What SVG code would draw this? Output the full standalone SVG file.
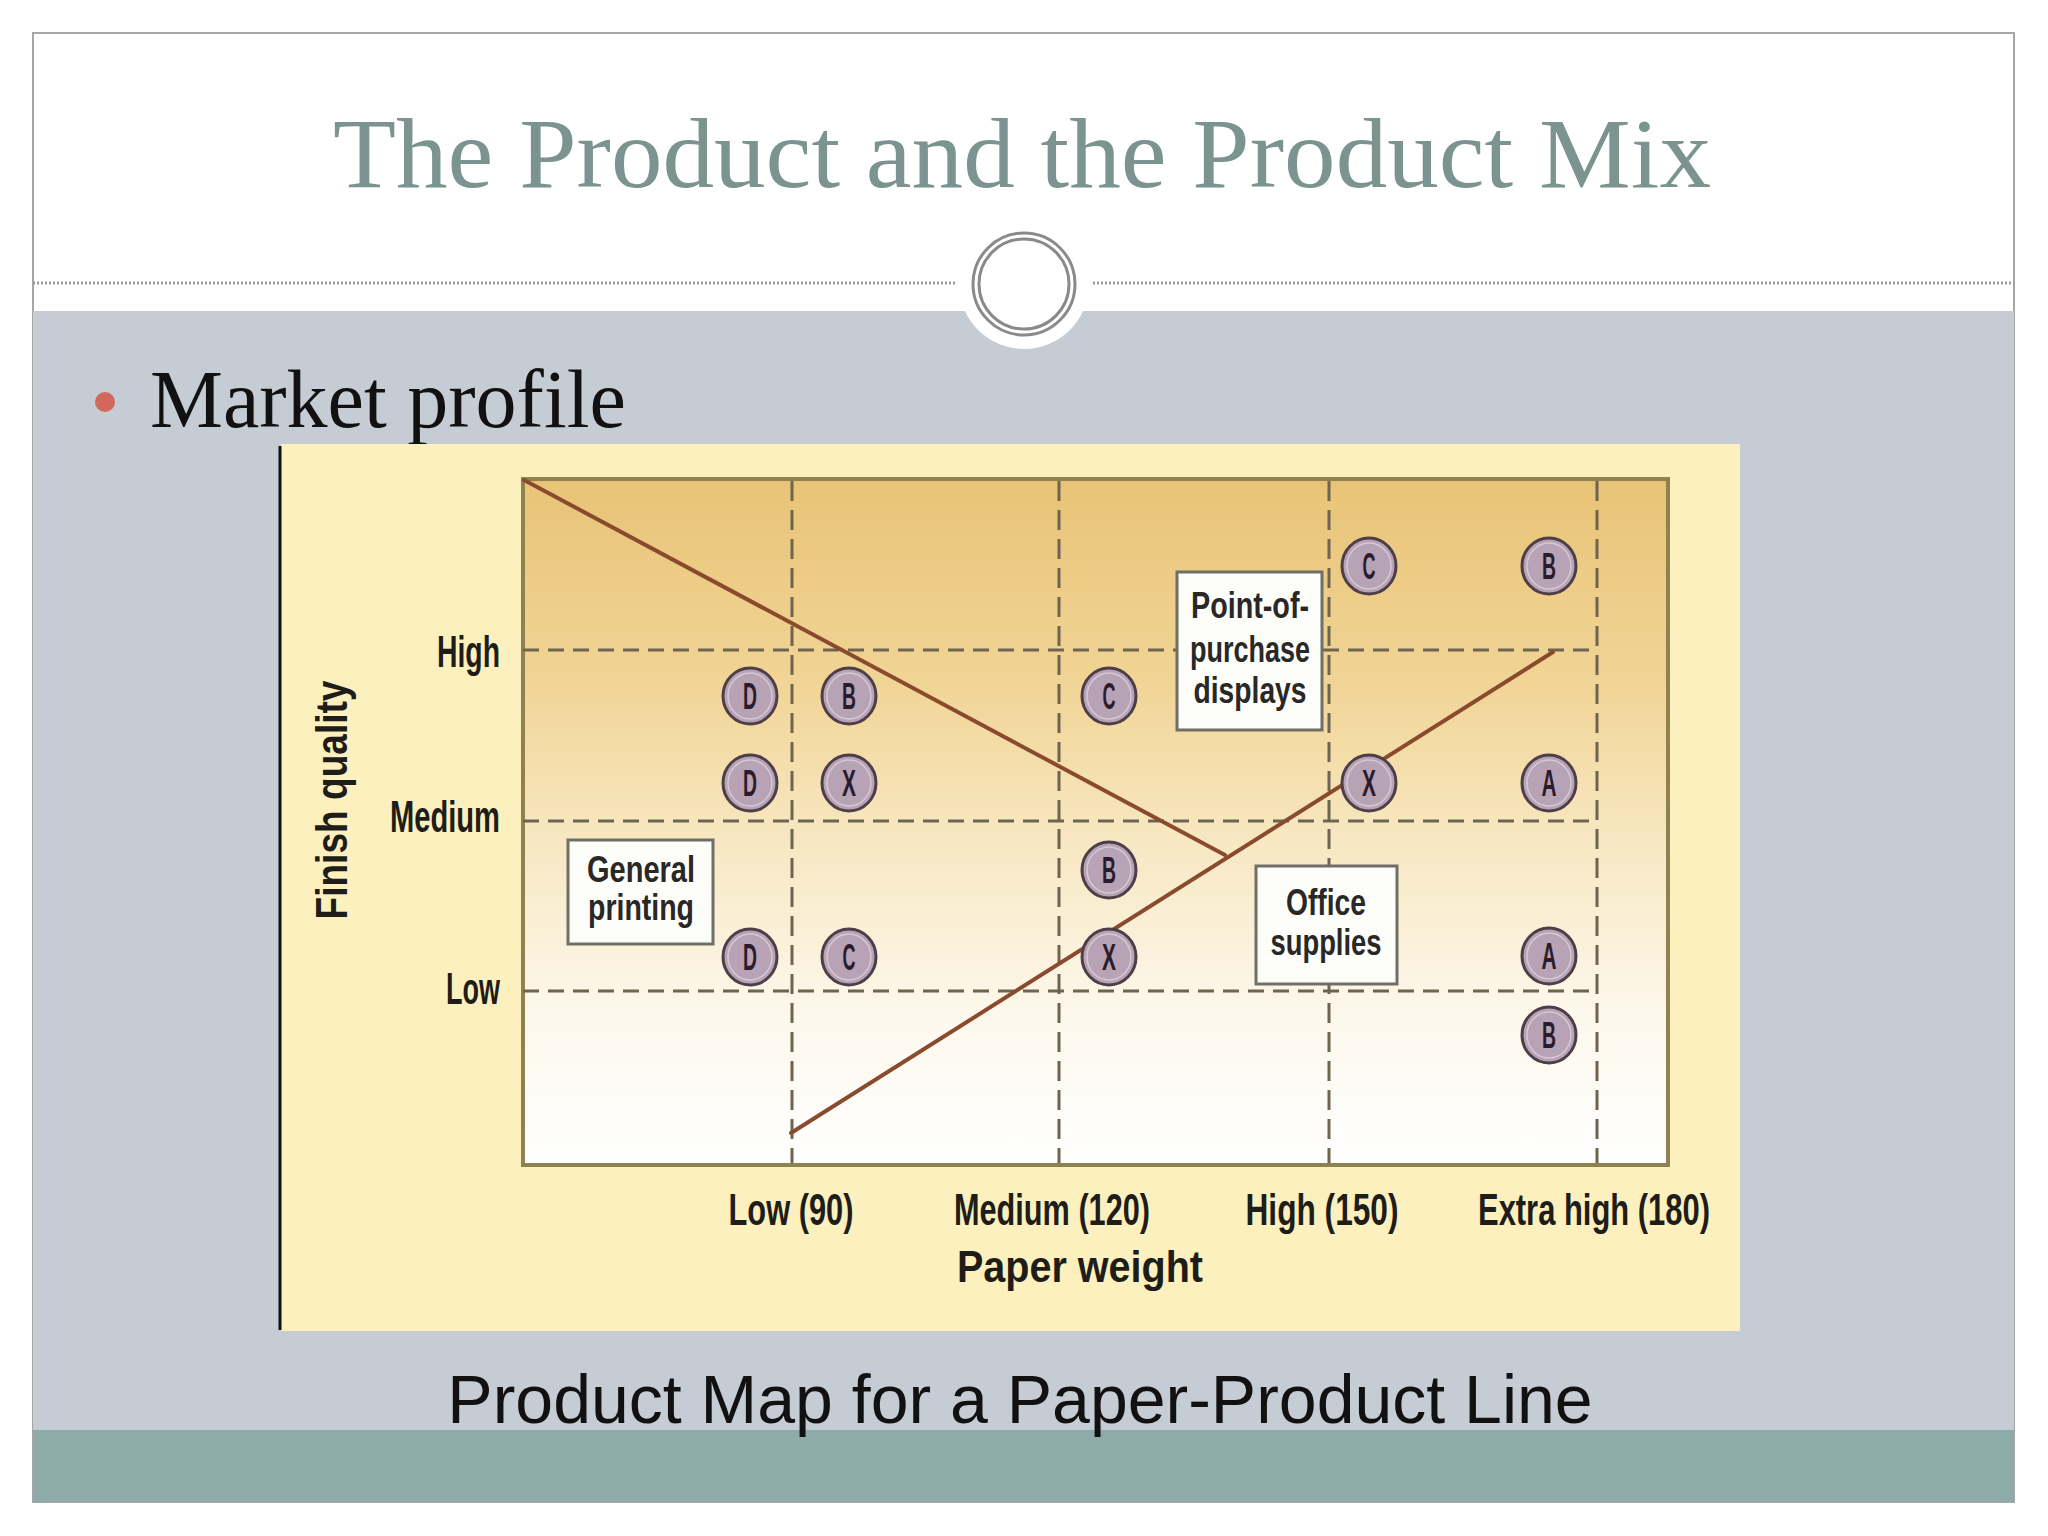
<svg xmlns="http://www.w3.org/2000/svg" width="2048" height="1536" viewBox="0 0 2048 1536">
  <defs>
    <linearGradient id="plotFill" x1="0" y1="0" x2="0" y2="1">
      <stop offset="0" stop-color="#e8c377"/>
      <stop offset="0.3" stop-color="#f1d596"/>
      <stop offset="0.55" stop-color="#f8e9c6"/>
      <stop offset="0.78" stop-color="#fdf8ec"/>
      <stop offset="1" stop-color="#ffffff"/>
    </linearGradient>
    <style>
      .ax { font-family: "Liberation Sans", Arial, sans-serif; font-weight: bold; font-size: 44px; fill: #1f1d1a; }
      .lbl { font-family: "Liberation Sans", Arial, sans-serif; font-weight: bold; font-size: 36px; fill: #2a2826; text-anchor: middle; }
      .grid { stroke: #6e6450; stroke-width: 3; fill: none; }
      .gh { stroke-dasharray: 16 9; }
      .gv { stroke-dasharray: 20 9; }
      .box { fill: #fdfdfa; stroke: #6f6f66; stroke-width: 3; }
      .dot { fill: #b7a3b5; stroke: #4e3e48; stroke-width: 3; }
      .dotin { fill: none; stroke: #d6c8d4; stroke-width: 1.5; }
      .let { font-family: "Liberation Sans", Arial, sans-serif; font-weight: bold; font-size: 37px; fill: #2a1c2c; text-anchor: middle; }
      .trend { stroke: #8a4a2e; stroke-width: 4; fill: none; stroke-linecap: round; }
    </style>
  </defs>

  <!-- page -->
  <rect x="0" y="0" width="2048" height="1536" fill="#ffffff"/>
  <rect x="33" y="33" width="1981" height="1469" fill="#ffffff" stroke="#a6a6a6" stroke-width="2"/>
  <rect x="33" y="311" width="1981" height="1119" fill="#c6ccd4"/>
  <rect x="33" y="1430" width="1981" height="72" fill="#8eabaa"/>

  <!-- header divider -->
  <line x1="33" y1="283" x2="955" y2="283" stroke="#9a9a9a" stroke-width="3" stroke-dasharray="2 2"/>
  <line x1="1093" y1="283" x2="2014" y2="283" stroke="#9a9a9a" stroke-width="3" stroke-dasharray="2 2"/>
  <circle cx="1024" cy="284" r="65" fill="#ffffff"/>
  <circle cx="1024" cy="284" r="51" fill="none" stroke="#8a8a8a" stroke-width="3"/>
  <circle cx="1024" cy="284" r="45" fill="#ffffff" stroke="#8a8a8a" stroke-width="3"/>

  <text x="1022" y="187" font-family="'Liberation Serif', 'Times New Roman', serif" font-size="100" fill="#7b948f" text-anchor="middle" textLength="1378" lengthAdjust="spacingAndGlyphs">The Product and the Product Mix</text>

  <circle cx="105" cy="402" r="10" fill="#d2685c"/>
  <text x="150" y="427" font-family="'Liberation Serif', 'Times New Roman', serif" font-size="82" fill="#111111">Market profile</text>

  <!-- chart panel -->
  <rect x="281" y="444" width="1459" height="887" fill="#fcf1be"/>
  <line x1="280" y1="446" x2="280" y2="1330" stroke="#111111" stroke-width="3"/>

  <rect x="523" y="479" width="1145" height="686" fill="url(#plotFill)" stroke="#8f8150" stroke-width="4"/>

  <g id="grid">
    <line class="grid gh" x1="523" y1="650" x2="1597" y2="650"/>
    <line class="grid gh" x1="523" y1="821" x2="1597" y2="821"/>
    <line class="grid gh" x1="523" y1="991" x2="1597" y2="991"/>
    <line class="grid gv" x1="792" y1="481" x2="792" y2="1163"/>
    <line class="grid gv" x1="1059" y1="481" x2="1059" y2="1163"/>
    <line class="grid gv" x1="1329" y1="481" x2="1329" y2="1163"/>
    <line class="grid gv" x1="1597" y1="481" x2="1597" y2="1163"/>
  </g>

  <g id="connectors">
    <line class="trend" x1="524" y1="480" x2="1225" y2="855"/>
    <line class="trend" x1="791" y1="1133" x2="1553" y2="652"/>
  </g>

  <!-- axis labels -->
  <g id="y-axis">
    <text class="ax" x="500" y="667" text-anchor="end" textLength="63" lengthAdjust="spacingAndGlyphs">High</text>
    <text class="ax" x="500" y="832" text-anchor="end" textLength="110" lengthAdjust="spacingAndGlyphs">Medium</text>
    <text class="ax" x="500" y="1004" text-anchor="end" textLength="54" lengthAdjust="spacingAndGlyphs">Low</text>
    <text class="ax" transform="translate(347,800) rotate(-90)" x="0" y="0" font-size="36" text-anchor="middle" textLength="239" lengthAdjust="spacingAndGlyphs">Finish quality</text>
  </g>
  <g id="x-axis">
    <text class="ax" x="791" y="1225" text-anchor="middle" textLength="125" lengthAdjust="spacingAndGlyphs">Low (90)</text>
    <text class="ax" x="1052" y="1225" text-anchor="middle" textLength="196" lengthAdjust="spacingAndGlyphs">Medium (120)</text>
    <text class="ax" x="1322" y="1225" text-anchor="middle" textLength="153" lengthAdjust="spacingAndGlyphs">High (150)</text>
    <text class="ax" x="1594" y="1225" text-anchor="middle" textLength="232" lengthAdjust="spacingAndGlyphs">Extra high (180)</text>
    <text class="ax" x="1080" y="1282" font-size="40" text-anchor="middle" textLength="246" lengthAdjust="spacingAndGlyphs">Paper weight</text>
  </g>

  <!-- segment boxes -->
  <g id="box-general">
    <rect class="box" x="568" y="840" width="145" height="104"/>
    <text class="lbl" x="641" y="882" textLength="108" lengthAdjust="spacingAndGlyphs">General</text>
    <text class="lbl" x="641" y="920" textLength="106" lengthAdjust="spacingAndGlyphs">printing</text>
  </g>
  <g id="box-pop">
    <rect class="box" x="1177" y="572" width="145" height="158"/>
    <text class="lbl" x="1250" y="618" textLength="118" lengthAdjust="spacingAndGlyphs">Point-of-</text>
    <text class="lbl" x="1250" y="662" textLength="120" lengthAdjust="spacingAndGlyphs">purchase</text>
    <text class="lbl" x="1250" y="703" textLength="113" lengthAdjust="spacingAndGlyphs">displays</text>
  </g>
  <g id="box-office">
    <rect class="box" x="1256" y="866" width="141" height="118"/>
    <text class="lbl" x="1326" y="915" textLength="80" lengthAdjust="spacingAndGlyphs">Office</text>
    <text class="lbl" x="1326" y="955" textLength="111" lengthAdjust="spacingAndGlyphs">supplies</text>
  </g>

  <!-- product markers -->
  <g id="m-d1"><ellipse class="dot" cx="750" cy="696" rx="27" ry="28"/><ellipse class="dotin" cx="750" cy="696" rx="22" ry="23"/><text class="let" x="750" y="709" textLength="14" lengthAdjust="spacingAndGlyphs">D</text></g>
  <g id="m-b1"><ellipse class="dot" cx="849" cy="696" rx="27" ry="28"/><ellipse class="dotin" cx="849" cy="696" rx="22" ry="23"/><text class="let" x="849" y="709" textLength="14" lengthAdjust="spacingAndGlyphs">B</text></g>
  <g id="m-c1"><ellipse class="dot" cx="1109" cy="696" rx="27" ry="28"/><ellipse class="dotin" cx="1109" cy="696" rx="22" ry="23"/><text class="let" x="1109" y="709" textLength="13" lengthAdjust="spacingAndGlyphs">C</text></g>
  <g id="m-d2"><ellipse class="dot" cx="750" cy="783" rx="27" ry="28"/><ellipse class="dotin" cx="750" cy="783" rx="22" ry="23"/><text class="let" x="750" y="796" textLength="14" lengthAdjust="spacingAndGlyphs">D</text></g>
  <g id="m-x1"><ellipse class="dot" cx="849" cy="783" rx="27" ry="28"/><ellipse class="dotin" cx="849" cy="783" rx="22" ry="23"/><text class="let" x="849" y="796" textLength="14" lengthAdjust="spacingAndGlyphs">X</text></g>
  <g id="m-d3"><ellipse class="dot" cx="750" cy="957" rx="27" ry="28"/><ellipse class="dotin" cx="750" cy="957" rx="22" ry="23"/><text class="let" x="750" y="970" textLength="14" lengthAdjust="spacingAndGlyphs">D</text></g>
  <g id="m-c2"><ellipse class="dot" cx="849" cy="957" rx="27" ry="28"/><ellipse class="dotin" cx="849" cy="957" rx="22" ry="23"/><text class="let" x="849" y="970" textLength="13" lengthAdjust="spacingAndGlyphs">C</text></g>
  <g id="m-b2"><ellipse class="dot" cx="1109" cy="870" rx="27" ry="28"/><ellipse class="dotin" cx="1109" cy="870" rx="22" ry="23"/><text class="let" x="1109" y="883" textLength="14" lengthAdjust="spacingAndGlyphs">B</text></g>
  <g id="m-x2"><ellipse class="dot" cx="1109" cy="957" rx="27" ry="28"/><ellipse class="dotin" cx="1109" cy="957" rx="22" ry="23"/><text class="let" x="1109" y="970" textLength="14" lengthAdjust="spacingAndGlyphs">X</text></g>
  <g id="m-c3"><ellipse class="dot" cx="1369" cy="566" rx="27" ry="28"/><ellipse class="dotin" cx="1369" cy="566" rx="22" ry="23"/><text class="let" x="1369" y="579" textLength="13" lengthAdjust="spacingAndGlyphs">C</text></g>
  <g id="m-b3"><ellipse class="dot" cx="1549" cy="566" rx="27" ry="28"/><ellipse class="dotin" cx="1549" cy="566" rx="22" ry="23"/><text class="let" x="1549" y="579" textLength="14" lengthAdjust="spacingAndGlyphs">B</text></g>
  <g id="m-x3"><ellipse class="dot" cx="1369" cy="783" rx="27" ry="28"/><ellipse class="dotin" cx="1369" cy="783" rx="22" ry="23"/><text class="let" x="1369" y="796" textLength="14" lengthAdjust="spacingAndGlyphs">X</text></g>
  <g id="m-a1"><ellipse class="dot" cx="1549" cy="783" rx="27" ry="28"/><ellipse class="dotin" cx="1549" cy="783" rx="22" ry="23"/><text class="let" x="1549" y="796" textLength="15" lengthAdjust="spacingAndGlyphs">A</text></g>
  <g id="m-a2"><ellipse class="dot" cx="1549" cy="956" rx="27" ry="28"/><ellipse class="dotin" cx="1549" cy="956" rx="22" ry="23"/><text class="let" x="1549" y="969" textLength="15" lengthAdjust="spacingAndGlyphs">A</text></g>
  <g id="m-b4"><ellipse class="dot" cx="1549" cy="1035" rx="27" ry="28"/><ellipse class="dotin" cx="1549" cy="1035" rx="22" ry="23"/><text class="let" x="1549" y="1048" textLength="14" lengthAdjust="spacingAndGlyphs">B</text></g>

  <text x="1020" y="1423" font-family="'Liberation Sans', Arial, sans-serif" font-size="68" fill="#111111" text-anchor="middle">Product Map for a Paper-Product Line</text>
</svg>
